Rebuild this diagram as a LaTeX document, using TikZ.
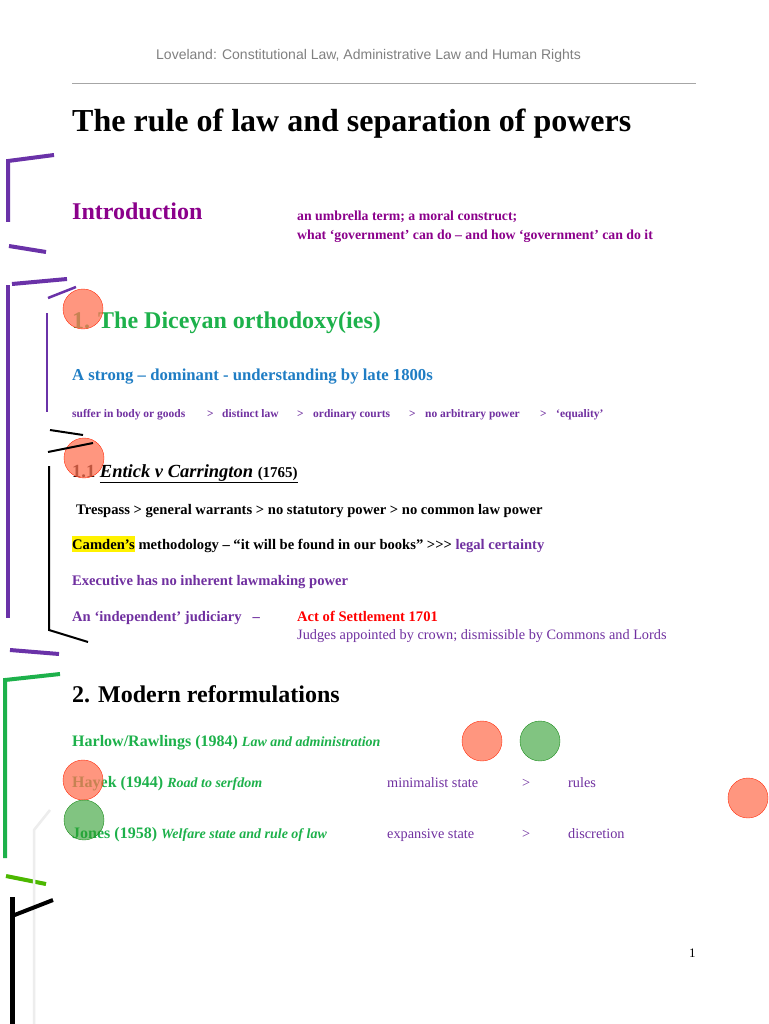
\documentclass[tikz,border=0pt]{standalone}
\usepackage{fontspec}
\setmainfont{Liberation Serif}
\newfontfamily\hdr{Liberation Sans}
\begin{document}
\begin{tikzpicture}[x=1pt,y=-1pt,
  t/.style={anchor=base west,inner sep=0pt},
  b/.style={t,font=\fontsize{14.6}{16}\selectfont\bfseries},
  sm/.style={t,font=\fontsize{11.5}{12}\selectfont\bfseries,text=pur},
  pl/.style={t,font=\fontsize{14.3}{16}\selectfont,text=pur},
  redc/.style={circle,minimum size=40pt,inner sep=0pt,fill=salmonc,fill opacity=0.75,draw=redline},
  grnc/.style={circle,minimum size=40pt,inner sep=0pt,fill=grc,fill opacity=0.6,draw=grline},
  pen/.style={line width=4pt},
  thinpen/.style={line width=2.5pt}]
\definecolor{pur}{HTML}{7030A0}
\definecolor{intro}{HTML}{8B008B}
\definecolor{grn}{HTML}{1DB14B}
\definecolor{blu}{HTML}{1F7DC4}
\definecolor{salmonc}{HTML}{FF7355}
\definecolor{redline}{HTML}{FF3010}
\definecolor{grc}{HTML}{2E9E2E}
\definecolor{grline}{HTML}{1E8E1E}
\definecolor{mp}{HTML}{6A32A8}
\useasboundingbox[fill=white] (0,0) rectangle (768,1024);
\node[t,font=\hdr\fontsize{14}{16}\selectfont,text=gray] (h) at (156,60) {Loveland: Constitutional Law, Administrative Law and Human Rights};
\draw[gray!70] (72,83) -- (696,83);
\node[t,font=\fontsize{32}{34}\selectfont\bfseries] (title) at (72,132) {The rule of law and separation of powers};
\node[t,font=\fontsize{24}{26}\selectfont\bfseries,text=intro] (intro) at (72,220) {Introduction};
\node[t,font=\fontsize{13.8}{15}\selectfont\bfseries,text=intro] (i1) at (297,221) {an umbrella term; a moral construct;};
\node[t,font=\fontsize{13.8}{15}\selectfont\bfseries,text=intro] (i2) at (297,240) {what ‘government’ can do -- and how ‘government’ can do it};
\node[t,font=\fontsize{24}{26}\selectfont\bfseries,text=grn] (s1) at (72,328) {1. The Diceyan orthodoxy(ies)};
\node[t,font=\fontsize{16.7}{18}\selectfont\bfseries,text=blu] (strong) at (72,380) {A strong -- dominant - understanding by late 1800s};
\node[sm] (suf) at (72,417) {suffer in body or goods};
\node[sm] (a1) at (207,417) {>};
\node[sm] (dl) at (222,417) {distinct law};
\node[sm] (a2) at (297,417) {>};
\node[sm] (oc) at (313,417) {ordinary courts};
\node[sm] (a3) at (409,417) {>};
\node[sm] (na) at (425,417) {no arbitrary power};
\node[sm] (a4) at (540,417) {>};
\node[sm] (eq) at (556,417) {‘equality’};
\node[t,font=\fontsize{18.5}{20}\selectfont\bfseries] (s11) at (72,477) {1.1 \underline{\textit{Entick v Carrington} {\fontsize{15}{17}\selectfont(1765)}}};
\node[b] (tr) at (76,514) {Trespass > general warrants > no statutory power > no common law power};
\node[b] (cam) at (72,549) {\colorbox{yellow}{\kern-3pt Camden’s\kern-3pt} methodology -- “it will be found in our books” {>}{>}{>} \textcolor{pur}{legal certainty}};
\node[b,text=pur] (ex) at (72,585) {Executive has no inherent lawmaking power};
\node[b,text=pur] (ind) at (72,621) {An ‘independent’ judiciary\ \ \ --};
\node[b,text=red] (act) at (297,621) {Act of Settlement 1701};
\node[pl] (jud) at (297,639) {Judges appointed by crown; dismissible by Commons and Lords};
\node[t,font=\fontsize{24}{26}\selectfont\bfseries] (s2) at (72,702) {2. Modern reformulations};
\node[t,font=\fontsize{16}{18}\selectfont\bfseries,text=grn] (har) at (72,746) {Harlow/Rawlings (1984) \textit{\fontsize{14}{16}\selectfont Law and administration}};
\node[t,font=\fontsize{16}{18}\selectfont\bfseries,text=grn] (hay) at (72,787) {Hayek (1944) \textit{\fontsize{14}{16}\selectfont Road to serfdom}};
\node[t,font=\fontsize{16}{18}\selectfont\bfseries,text=grn] (jon) at (72,838) {Jones (1958) \textit{\fontsize{14}{16}\selectfont Welfare state and rule of law}};
\node[pl] (min) at (387,787) {minimalist state};
\node[pl] (g1) at (522,787) {>};
\node[pl] (ru) at (568,787) {rules};
\node[pl] (exp) at (387,838) {expansive state};
\node[pl] (g2) at (522,838) {>};
\node[pl] (dis) at (568,838) {discretion};
\node[t,font=\fontsize{13}{15}\selectfont] (pg) at (689,957) {1};
% circles
\node[redc] (c1) at (83,309) {};
\node[redc] (c2) at (84,458) {};
\node[redc] (c3) at (482,741) {};
\node[grnc] (c4) at (540,741) {};
\node[redc] (c5) at (83,780) {};
\node[grnc] (c6) at (84,820) {};
\node[redc] (c7) at (748,798) {};
% margin marks
\draw[mp,pen] (54,155) -- (8,161) -- (8,222);
\draw[mp,pen] (9,246) -- (46,252);
\draw[mp,pen] (67,279) -- (12,284);
\draw[mp,pen] (8,285) -- (8,618);
\draw[mp,thinpen] (48,298) -- (76,287);
\draw[mp,thinpen] (47,313) -- (47,412);
\draw[mp,pen] (10,650) -- (59,654);
\draw[black,line width=2pt] (50,430) -- (83,435);
\draw[black,line width=2pt] (48,452) -- (93,443);
\draw[black,line width=2pt] (49,466) -- (49,630) -- (88,642);
\draw[grn,pen] (60,674) -- (5,680) -- (5,858);
\draw[green!60!black!70!yellow,line width=4pt] (6,876) -- (46,884);
\draw[black!7,line width=2.5pt] (50,810) -- (34,830) -- (34,1024);
\draw[black,line width=5pt] (12,897) -- (12,1024);
\draw[black,line width=4pt] (12,916) -- (53,900);
\end{tikzpicture}
\end{document}
